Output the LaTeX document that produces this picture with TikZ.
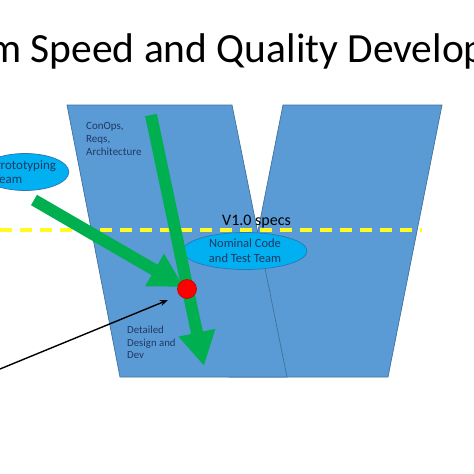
\documentclass[tikz,border=0pt]{standalone}
\usepackage{fontspec}
\setmainfont{Carlito}
\usetikzlibrary{arrows.meta,shapes.geometric}

\definecolor{vblue}{RGB}{91,155,213}
\definecolor{vedge}{RGB}{65,113,156}
\definecolor{teamfill}{RGB}{0,176,240}
\definecolor{teamedge}{RGB}{46,117,182}
\definecolor{navy}{RGB}{31,56,100}
\definecolor{vgreen}{RGB}{0,176,80}
\definecolor{specyellow}{RGB}{255,250,40}

\tikzset{
  vleg/.style={fill=vblue,draw=vedge,line width=0.7pt},
  team/.style={ellipse,fill=teamfill,draw=teamedge,line width=0.7pt,inner sep=0pt,
    text=navy,align=center,font=\fontsize{12.5}{15}\selectfont},
  note/.style={text=navy,align=left,inner sep=0pt,font=\fontsize{11}{13}\selectfont},
  flow/.style={draw=vgreen,line width=12pt,-{Triangle[width=35pt,length=34pt]}},
}

\begin{document}
\begin{tikzpicture}[x=1pt,y=-1pt]
  \useasboundingbox (0,0) rectangle (474,474);
  \clip (0,0) rectangle (474,474);
  \fill[white] (0,0) rectangle (474,474);
  \node[anchor=base west,inner sep=0pt,font=\fontsize{41.5}{46}\selectfont] (title) at (-12,62) {m Speed and Quality Develop};
  % the V
  \draw[vleg] (283,105) -- (442,105) -- (388,377) -- (229,377) -- cycle;
  \draw[vleg] (67,105) -- (232,105) -- (287,377) -- (120,377) -- cycle;
  \coordinate (specL) at (0,230);
  \coordinate (specR) at (422,230);
  \draw[specyellow,line width=3.5pt,dash pattern=on 12pt off 8pt] (specL) -- (specR);
  \node[anchor=base west,inner sep=0pt,font=\fontsize{16}{18}\selectfont] (spec) at (222,225) {V1.0 specs};
  \node[team,minimum width=78pt,minimum height=37pt,align=left,font=\fontsize{13}{13.5}\selectfont] (proto) at (25,172) {Prototyping\\Team};
  \node[team,minimum width=124pt,minimum height=37pt] (nominal) at (245,251) {Nominal Code\\and Test Team};
  \node[note,anchor=north west] (conops) at (86,122) {ConOps,\\Reqs,\\Architecture};
  \node[note,anchor=north west,font=\fontsize{10.8}{12.6}\selectfont] (detail) at (127,326) {Detailed\\Design and\\Dev};
  % green flows into the join point
  \coordinate (top) at (151,115);
  \coordinate (bottom) at (204,366);
  \coordinate (protoout) at (34,200);
  \coordinate (join) at (184,287);
  \draw[flow] (top) -- (bottom);
  \draw[flow] (protoout) -- (join);
  \node[circle,fill=red,draw=red!75!black,line width=0.6pt,minimum size=19pt,inner sep=0pt] (dot) at (187,289) {};
  \coordinate (pointer) at (0,369);
  \coordinate (pointee) at (168,300);
  \draw[line width=1.4pt,-{Stealth[length=8pt,width=6pt]}] (pointer) -- (pointee);
\end{tikzpicture}
\end{document}
